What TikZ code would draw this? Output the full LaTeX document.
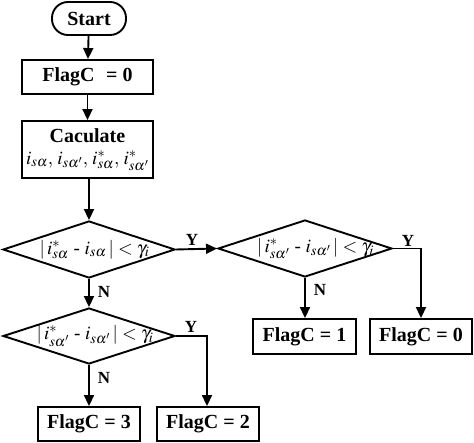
\documentclass[tikz,border=0pt]{standalone}
\usepackage{mathptmx}
\usepackage[no-math]{fontspec}
\setmainfont{Liberation Serif}
\DeclareMathSizes{19}{19}{14.5}{11}
\usetikzlibrary{shapes.geometric,arrows.meta}
\begin{document}
\begin{tikzpicture}[x=1pt,y=-1pt,
  line width=1.9pt,
  box/.style={draw,rectangle,inner sep=0pt,font=\fontsize{20}{23}\selectfont\bfseries},
  dia/.style={draw,diamond,inner sep=0pt,minimum width=172pt,minimum height=57pt,font=\fontsize{19}{22}\selectfont},
  lab/.style={inner sep=0pt,font=\fontsize{17}{19}\selectfont\bfseries},
  arr/.style={-{Triangle[length=11pt,width=10pt]}}
]
\useasboundingbox (0,0) rectangle (474,443);
\node[box,rounded corners=16pt,minimum width=74pt,minimum height=33pt] (start) at (89,18.5) {Start};
\node[box,minimum width=131pt,minimum height=34pt] (f0) at (87.5,77) {FlagC\,\, = 0};
\node[box,minimum width=131pt,minimum height=57pt,align=center] (calc) at (87.5,149.5)
  {Caculate\\[-1pt]\mdseries\fontsize{19}{22}\selectfont$i_{s\alpha},\, i_{s\alpha'},\, i^{*}_{s\alpha},\, i^{*}_{s\alpha'}$};
\node[dia] (d1) at (89,249.5) {\makebox[0pt]{\hspace{11pt}\raisebox{-3pt}{$|\,i^{*}_{s\alpha}$ - $i_{s\alpha}\,| < \gamma_i$}}};
\node[dia,minimum width=174pt] (d2) at (305,248.5) {\makebox[0pt]{\hspace{21pt}\raisebox{-3pt}{$|\,i^{*}_{s\alpha'}$ - $i_{s\alpha'}\,| < \gamma_i$}}};
\node[dia,minimum height=56pt] (d3) at (89,336) {\makebox[0pt]{\hspace{12pt}\raisebox{-3pt}{$|\,i^{*}_{s\alpha'}$ - $i_{s\alpha'}\,| < \gamma_i$}}};
\node[box,minimum width=103pt,minimum height=35pt] (f1) at (304.5,336.5) {FlagC = 1};
\node[box,minimum width=102pt,minimum height=35pt] (f0b) at (421,336.5) {FlagC = 0};
\node[box,minimum width=102pt,minimum height=34pt] (f3) at (89,424) {FlagC = 3};
\node[box,minimum width=102pt,minimum height=34pt] (f2) at (208,424) {FlagC = 2};
\draw[arr] (start) -- (f0);
\draw[arr] (f0) -- (calc);
\draw[arr] (calc.south -| d1.north) -- (d1.north);
\draw[arr] (d1.east) -- (d2.west);
\draw[arr] (d1.south) -- (d3.north);
\draw[arr] (d2.south) -- (d2.south |- f1.north);
\draw[arr] (d2.east) -| (f0b.north);
\draw[arr] (d3.south) -- (f3.north);
\draw[arr] (d3.east) -| (f2.north -| 207,0);
\node[lab] (y1) at (192,240) {Y};
\node[lab] (n1) at (104,292) {N};
\node[lab] (y2) at (191,327) {Y};
\node[lab] (n2) at (104,378) {N};
\node[lab] (n3) at (320,290) {N};
\node[lab] (y3) at (408,241) {Y};
\end{tikzpicture}
\end{document}
